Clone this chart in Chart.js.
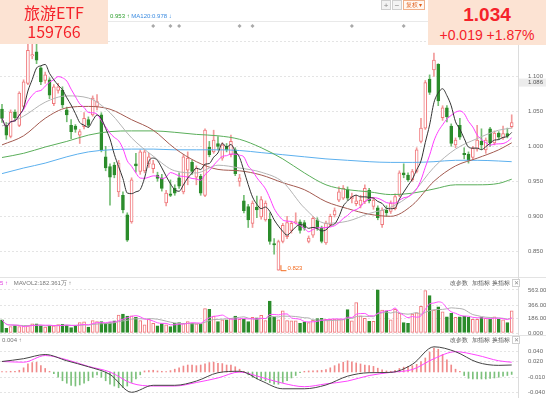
<!DOCTYPE html>
<html><head><meta charset="utf-8">
<script src="https://cdn.jsdelivr.net/npm/chart.js@4.4.1/dist/chart.umd.min.js"></script>
<style>
html,body{margin:0;padding:0;background:#fff;}
#wrap{position:relative;width:546px;height:398px;overflow:hidden;font-family:"Liberation Sans",sans-serif;}
canvas{position:absolute;left:0;}
.abs{position:absolute;white-space:nowrap;}
.box{position:absolute;background:#fce3d3;color:#f5222a;text-align:center;}
.btn{position:absolute;border:1px solid #cfcfcf;background:#f3f3f3;color:#888;font-size:8px;line-height:9px;text-align:center;box-sizing:border-box;}
.tool{position:absolute;font-size:6px;line-height:7px;color:#555;white-space:nowrap;}
.hl{position:absolute;background:#e3e3e3;}
</style></head><body>
<div id="wrap">
<canvas id="cMain" width="546" height="278" style="top:0"></canvas>
<canvas id="cVol" width="546" height="57" style="top:278px"></canvas>
<canvas id="cMacd" width="546" height="63" style="top:335px"></canvas>

<div class="hl" style="left:0;top:21px;width:518px;height:1px;background:#e9e9e9"></div>
<div class="hl" style="left:0;top:277px;width:546px;height:1px;"></div>
<div class="hl" style="left:0;top:335px;width:546px;height:1px;"></div>
<div class="hl" style="left:518px;top:0;width:1px;height:398px;background:#dcdcdc"></div>

<div class="abs" style="left:110px;top:12px;font-size:6px;line-height:8px;"><span style="color:#2e9e2e">0.953 ↑</span> <span style="color:#3b8be0">MA120:0.978 ↓</span></div>

<div class="btn" style="left:381px;top:0;width:10px;height:10px;">+</div>
<div class="btn" style="left:392px;top:0;width:10px;height:10px;">−</div>
<div class="btn" style="left:403px;top:0;width:22px;height:10px;border-color:#f0b08a;background:#fff7f1;color:#e0601c;font-size:6px;">复权 ▾</div>

<div class="box" style="left:0;top:0;width:108px;height:44px;">
  <div style="position:absolute;left:0;top:2px;width:100%;font:16px 'Noto Sans CJK SC';line-height:20px;">旅游ETF</div>
  <div style="position:absolute;left:0;top:21px;width:100%;font:16px 'Noto Sans CJK SC';line-height:20px;">159766</div>
</div>
<div class="box" style="left:428px;top:0;width:118px;height:45px;">
  <div style="position:absolute;left:0;top:4px;width:100%;font:bold 19px 'Liberation Sans';line-height:22px;">1.034</div>
  <div style="position:absolute;left:0;top:27px;width:100%;font:14px 'Liberation Sans';line-height:16px;">+0.019 +1.87%</div>
</div>

<div class="abs" style="left:0;top:280px;font-size:6px;line-height:7px;"><span style="color:#e040e0">5 ↑</span> <span style="color:#777;margin-left:4px">MAVOL2:182.361万 ↑</span></div>
<div class="tool" style="left:450px;top:280px;">改参数</div>
<div class="tool" style="left:472px;top:280px;">加指标</div>
<div class="tool" style="left:492px;top:280px;">换指标</div>
<div class="btn" style="left:512px;top:279px;width:8px;height:8px;font-size:6px;line-height:7px;background:#fff;">✕</div>

<div class="abs" style="left:2px;top:337px;font-size:6px;line-height:7px;color:#777">0.004 ↑</div>
<div class="tool" style="left:450px;top:337px;">改参数</div>
<div class="tool" style="left:472px;top:337px;">加指标</div>
<div class="tool" style="left:492px;top:337px;">换指标</div>
<div class="btn" style="left:512px;top:336px;width:8px;height:8px;font-size:6px;line-height:7px;background:#fff;">✕</div>
</div>

<script>
// ---------- data ----------
const opens = [
1.053,1.030,1.014,1.049,1.030,1.057,1.090,1.129,1.135,1.112,
1.094,1.095,1.061,1.080,1.080,1.052,1.030,1.029,1.016,1.028,
1.038,1.045,1.057,1.045,0.985,0.971,0.973,0.935,0.930,0.902,
0.892,0.975,0.964,0.965,0.975,0.968,0.959,0.955,0.919,0.932,
0.940,0.955,0.935,0.966,0.977,0.956,0.957,0.930,0.999,0.992,
1.004,0.983,1.000,0.988,0.995,0.950,0.922,0.914,0.890,0.913,
0.899,0.895,0.896,0.861,0.823,0.864,0.871,0.880,0.891,0.892,
0.891,0.864,0.873,0.895,0.883,0.862,0.888,0.902,0.923,0.926,
0.938,0.925,0.918,0.916,0.921,0.937,0.914,0.912,0.888,0.909,
0.907,0.911,0.930,0.962,0.959,0.952,0.964,1.007,1.026,1.096,
1.109,1.117,1.041,1.055,1.029,1.002,1.030,0.990,0.989,0.984,
0.996,1.007,0.995,1.025,1.005,1.019,1.012,1.018,1.028];
const highs = [
1.060,1.034,1.052,1.052,1.078,1.095,1.147,1.147,1.150,1.114,
1.106,1.098,1.088,1.090,1.085,1.056,1.038,1.031,1.024,1.048,
1.042,1.072,1.074,1.048,1.000,0.975,0.977,0.980,0.935,0.905,
0.955,0.990,0.995,0.995,0.990,0.980,0.963,0.960,0.937,0.952,
0.945,0.962,0.988,0.992,0.980,0.972,0.960,1.025,1.007,1.023,
1.014,1.005,1.004,1.016,0.998,0.960,0.930,0.917,0.922,0.929,
0.928,0.922,0.905,0.868,0.866,0.890,0.900,0.893,0.905,0.895,
0.894,0.872,0.900,0.898,0.886,0.893,0.903,0.912,0.942,0.944,
0.942,0.933,0.930,0.930,0.945,0.940,0.927,0.915,0.912,0.915,
0.922,0.932,0.965,0.975,0.962,0.967,0.998,1.040,1.094,1.102,
1.133,1.118,1.058,1.058,1.032,1.012,1.040,0.998,0.992,1.000,
1.030,1.025,1.012,1.027,1.022,1.021,1.029,1.026,1.045];
const lows = [
1.034,1.010,1.012,1.036,1.028,1.055,1.088,1.125,1.118,1.088,
1.090,1.068,1.058,1.076,1.055,1.035,1.011,1.020,1.004,1.025,
1.027,1.043,1.052,0.992,0.965,0.916,0.955,0.928,0.905,0.864,
0.890,0.963,0.960,0.962,0.970,0.962,0.950,0.936,0.915,0.928,
0.930,0.940,0.932,0.945,0.960,0.945,0.930,0.928,0.985,0.990,
0.995,0.980,0.992,0.985,0.958,0.943,0.905,0.884,0.884,0.898,
0.896,0.893,0.860,0.846,0.823,0.862,0.868,0.876,0.889,0.876,
0.880,0.862,0.870,0.880,0.862,0.860,0.885,0.899,0.921,0.924,
0.923,0.919,0.915,0.912,0.918,0.919,0.910,0.895,0.884,0.900,
0.904,0.909,0.928,0.955,0.950,0.950,0.962,1.005,1.024,1.074,
1.100,1.058,1.037,1.035,1.000,0.998,1.010,0.982,0.976,0.981,
0.993,0.995,0.990,1.000,1.002,1.010,1.010,1.012,1.026];
const closes = [
1.040,1.016,1.049,1.041,1.076,1.092,1.137,1.131,1.123,1.092,
1.102,1.073,1.085,1.085,1.059,1.045,1.021,1.024,1.021,1.040,
1.030,1.069,1.064,0.995,0.969,0.956,0.959,0.976,0.909,0.866,
0.952,0.972,0.992,0.992,0.985,0.975,0.954,0.940,0.933,0.930,
0.933,0.943,0.985,0.983,0.964,0.969,0.933,1.023,0.988,1.009,
1.000,1.002,0.995,1.007,0.961,0.955,0.908,0.895,0.919,0.909,
0.924,0.919,0.864,0.859,0.864,0.887,0.891,0.890,0.892,0.880,
0.883,0.869,0.897,0.883,0.864,0.890,0.900,0.908,0.935,0.940,
0.926,0.928,0.922,0.923,0.940,0.922,0.923,0.898,0.909,0.905,
0.919,0.928,0.962,0.959,0.952,0.964,0.995,1.026,1.091,1.077,
1.123,1.065,1.055,1.042,1.004,1.009,1.013,0.988,0.980,0.997,
1.009,1.002,1.009,1.005,1.019,1.013,1.018,1.015,1.034];
const volumes = [
171,60,85,98,85,90,94,120,120,98,
77,98,94,111,115,102,72,102,137,145,
77,162,150,150,128,137,158,235,247,222,
226,205,162,107,179,128,94,124,107,85,
128,137,128,150,128,120,115,320,311,222,
150,171,171,192,222,179,179,150,205,200,
230,162,418,205,171,290,162,158,158,128,
145,137,166,188,192,179,179,183,183,183,
307,158,397,226,192,154,154,565,299,290,
171,311,256,137,128,248,265,350,555,491,
300,341,277,213,256,205,213,222,205,179,
179,205,192,179,213,179,171,137,290];
const macdHist = [
0.0007,0.0007,0.0014,0.0014,0.0034,0.0082,0.0158,0.0185,0.0192,0.0124,
0.0069,0.0014,-0.0034,-0.0103,-0.0172,-0.0220,-0.0261,-0.0275,-0.0254,-0.0220,
-0.0172,-0.0103,-0.0055,-0.0103,-0.0172,-0.0240,-0.0275,-0.0309,-0.0309,-0.0275,
-0.0206,-0.0137,-0.0055,0.0021,0.0027,0.0034,0.0021,0.0014,0.0007,0.0027,
0.0055,0.0082,0.0117,0.0137,0.0137,0.0124,0.0137,0.0158,0.0185,0.0192,
0.0172,0.0165,0.0137,0.0137,0.0103,0.0055,0.0014,-0.0055,-0.0103,-0.0137,
-0.0151,-0.0172,-0.0206,-0.0240,-0.0240,-0.0206,-0.0172,-0.0117,-0.0069,-0.0014,
0.0014,0.0021,0.0021,0.0027,0.0034,0.0048,0.0082,0.0124,0.0158,0.0192,
0.0220,0.0199,0.0178,0.0158,0.0137,0.0124,0.0110,0.0075,0.0041,0.0021,
0.0014,0.0034,0.0069,0.0096,0.0110,0.0124,0.0151,0.0206,0.0275,0.0391,
0.0467,0.0446,0.0343,0.0240,0.0137,0.0055,0.0014,-0.0069,-0.0124,-0.0137,
-0.0137,-0.0137,-0.0137,-0.0124,-0.0117,-0.0103,-0.0082,-0.0069,-0.0048];

// long averages / MACD lines read at these candle indices
const lineIdx = [0,5,10,15,20,25,30,35,40,45,50,55,60,65,70,75,80,85,90,95,100,105,110,115,118];
const ma20  = [1.029,1.043,1.063,1.072,1.069,1.048,1.012,0.986,0.965,0.962,0.973,0.969,0.963,0.949,0.912,0.890,0.893,0.904,0.913,0.933,0.970,0.996,1.011,1.023,1.026];
const ma30  = [1.002,1.015,1.040,1.055,1.057,1.053,1.038,1.023,0.997,0.978,0.967,0.965,0.959,0.948,0.938,0.921,0.911,0.903,0.900,0.916,0.950,0.972,0.983,0.995,1.005];
const ma60  = [0.984,0.990,0.999,1.007,1.016,1.021,1.022,1.022,1.020,1.017,1.015,1.010,0.998,0.982,0.962,0.945,0.938,0.935,0.931,0.933,0.939,0.945,0.945,0.947,0.953];
const ma120 = [0.961,0.969,0.976,0.985,0.992,0.995,0.996,0.996,0.995,0.995,0.995,0.994,0.991,0.988,0.985,0.982,0.980,0.978,0.977,0.977,0.978,0.980,0.980,0.979,0.978];
const dif   = [0.0206,0.0261,0.0343,0.0220,0.0103,-0.0048,-0.0398,-0.0261,-0.0261,-0.0178,-0.0014,0.0014,-0.0172,-0.0329,-0.0329,-0.0254,-0.0082,-0.0014,-0.0007,0.0151,0.0494,0.0398,0.0192,0.0130,0.0137];
const dea   = [0.0206,0.0192,0.0323,0.0240,0.0110,0.0000,-0.0220,-0.0275,-0.0275,-0.0206,-0.0117,0.0000,-0.0103,-0.0220,-0.0288,-0.0233,-0.0178,-0.0069,-0.0007,0.0048,0.0261,0.0398,0.0329,0.0220,0.0192];

const markerIdx = [35,39,41,55,58,81,93];
const priceTicks = [0.85,0.90,0.95,1.00,1.05,1.10,1.15];
const volTicks = [0,186,366,563];
const macdTicks = [-0.04,-0.01,0.02,0.04];
const lowIndex = 64, lowLabel = '0.823';
const markLabel = '1.086', markValue = 1.091;

// ---------- helpers ----------
const N = closes.length;
const idx = Array.from({length:N},(_, i)=>i);
function sma(arr,n){return arr.map((_,i)=>{const s=Math.max(0,i-n+1);const w=arr.slice(s,i+1);return w.reduce((a,b)=>a+b,0)/w.length;});}
const ma5 = sma(closes,5), ma10 = sma(closes,10);
const mavol1 = sma(volumes,5), mavol2 = sma(volumes,10);
const up = i => closes[i] >= opens[i];
const RED='#f0767a', REDW='#f29a9a', GREEN='#2b8c2b', GREENW='#74bd74';

const mkX = ()=>({type:'linear',min:-0.463,max:119.46,display:false,offset:false});
const font = {family:'Liberation Sans',size:6};
function yAxis(min,max,ticks,fmt){
  return {position:'right',min,max,
    afterFit:s=>{s.width=28;},
    afterBuildTicks:s=>{s.ticks=ticks.map(v=>({value:v}));},
    ticks:{font,color:'#666',padding:0,callback:v=>fmt(v)},
    grid:{color:'#e4e4e4',drawTicks:true,tickLength:10,tickColor:'rgba(0,0,0,0)'},
    border:{display:false,dash:[2,2]}};
}
const base = (top,bottom)=>({responsive:false,animation:false,events:[],
  layout:{padding:{top,bottom,left:0,right:0},autoPadding:false},
  plugins:{legend:{display:false},tooltip:{enabled:false}}});
const pts = (ix,vals)=>ix.map((k,j)=>({x:k,y:vals[j]}));
const line = (data,color,order,extra={})=>Object.assign({type:'line',data,borderColor:color,borderWidth:1,pointRadius:0,fill:false,cubicInterpolationMode:'monotone',order,clip:false},extra);

// make value v land at canvas pixel c - k*v, whatever area the layout gives
function calibrate(chart,c,k){
  const a=chart.chartArea;
  chart.options.scales.y.min=(c-a.bottom)/k;
  chart.options.scales.y.max=(c-a.top)/k;
  chart.update('none');
}

// ---------- main price chart ----------
const mainAnnot = {id:'mainAnnot',afterDatasetsDraw(c){
  const ctx=c.ctx, xs=c.scales.x, ys=c.scales.y;
  const x=xs.getPixelForValue(lowIndex), y=ys.getPixelForValue(lows[lowIndex]);
  ctx.save();
  ctx.strokeStyle='#f36c21'; ctx.lineWidth=1;
  ctx.beginPath(); ctx.moveTo(x+2.5,y-5); ctx.lineTo(x+2.5,y+0.5); ctx.lineTo(x+8,y+0.5); ctx.stroke();
  ctx.fillStyle='#f36c21'; ctx.font='6px Liberation Sans'; ctx.textBaseline='middle';
  ctx.fillText(lowLabel,x+9,y-2);
  const my=ys.getPixelForValue(markValue);
  ctx.fillStyle='#ececec'; ctx.fillRect(c.chartArea.right+1,my-4,27,8);
  ctx.fillStyle='#555'; ctx.fillText(markLabel,c.chartArea.right+10,my);
  ctx.restore();
}};
const mainChart = new Chart(document.getElementById('cMain'),{
  type:'bar',
  data:{datasets:[
    line(idx.map(i=>({x:i,y:ma5[i]})),'#333333',0),
    line(idx.map(i=>({x:i,y:ma10[i]})),'#ff3cff',1),
    line(pts(lineIdx,ma20),'#b4b4b4',1),
    line(pts(lineIdx,ma30),'#a35a50',1),
    line(pts(lineIdx,ma60),'#5aae5a',1),
    line(pts(lineIdx,ma120),'#5cb0ee',1),
    {type:'line',data:markerIdx.map(i=>({x:i,y:1.172})),showLine:false,pointStyle:'rectRot',pointRadius:2,pointBackgroundColor:'#a8a8a8',pointBorderWidth:0,order:0,clip:false},
    {label:'body',data:idx.map(i=>({x:i,y:[Math.min(opens[i],closes[i]),Math.max(opens[i],closes[i])]})),
      backgroundColor:idx.map(i=>up(i)?'#ffffff':GREEN),borderColor:idx.map(i=>up(i)?RED:GREEN),
      borderWidth:1,borderSkipped:false,barThickness:3,grouped:false,minBarLength:1,order:5,clip:false},
    {label:'wick',data:idx.map(i=>({x:i,y:[lows[i],highs[i]]})),
      backgroundColor:idx.map(i=>up(i)?REDW:GREENW),barThickness:1,grouped:false,order:6,clip:false}
  ]},
  options:Object.assign(base(22,1),{scales:{x:mkX(),y:yAxis(0.81329,1.17757,priceTicks,v=>v.toFixed(3))}}),
  plugins:[mainAnnot]
});
calibrate(mainChart, 846.3, 700);   // 1.000 at y=146.3, 0.05 per 35px

// ---------- volume chart ----------
const volChart = new Chart(document.getElementById('cVol'),{
  type:'bar',
  data:{datasets:[
    line(idx.map(i=>({x:i,y:mavol1[i]})),'#ff50ff',0),
    line(idx.map(i=>({x:i,y:mavol2[i]})),'#b0b0b0',1),
    {data:idx.map(i=>({x:i,y:volumes[i]})),backgroundColor:idx.map(i=>up(i)?'#ffffff':GREEN),
      borderColor:idx.map(i=>up(i)?RED:GREEN),borderWidth:1,borderSkipped:false,barThickness:3,grouped:false,order:5,clip:false}
  ]},
  options:Object.assign(base(8,2),{scales:{x:mkX(),y:yAxis(0,615.4,volTicks,v=>v.toFixed(3))}})
});
calibrate(volChart, 55, 0.07638);   // 0 at page y=333

// ---------- MACD chart ----------
const macdChart = new Chart(document.getElementById('cMacd'),{
  type:'bar',
  data:{datasets:[
    line(pts(lineIdx,dif),'#444444',0),
    line(pts(lineIdx,dea),'#ff44ff',1),
    {data:idx.map(i=>({x:i,y:macdHist[i]})),backgroundColor:idx.map(i=>macdHist[i]>=0?'#f08a8a':'#7cc17c'),
      barThickness:1,grouped:false,order:5,clip:false}
  ]},
  options:Object.assign(base(7,0),{scales:{x:mkX(),y:yAxis(-0.051,0.0588,macdTicks,v=>v.toFixed(3))}})
});
calibrate(macdChart, 37, 510);   // zero at page y=372
</script>
</body></html>
